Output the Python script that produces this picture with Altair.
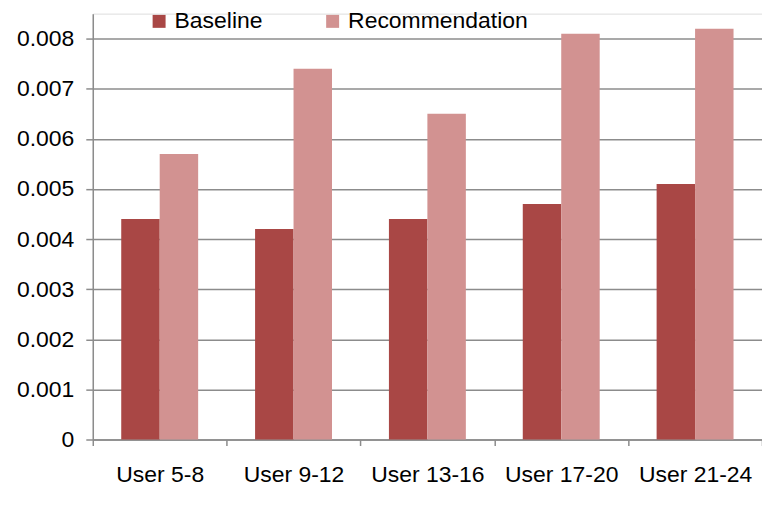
import altair as alt
import pandas as pd

categories = ["User 5-8", "User 9-12", "User 13-16", "User 17-20", "User 21-24"]
baseline = [0.0044, 0.0042, 0.0044, 0.0047, 0.0051]
recommendation = [0.0057, 0.0074, 0.0065, 0.0081, 0.0082]
series = ["Baseline", "Recommendation"]
colors = ["#A94745", "#D29291"]
y_ticks = [0, 0.001, 0.002, 0.003, 0.004, 0.005, 0.006, 0.007, 0.008]

rows = []
for c, b, r in zip(categories, baseline, recommendation):
    rows.append({"cat": c, "series": series[0], "value": b})
    rows.append({"cat": c, "series": series[1], "value": r})
df = pd.DataFrame(rows)

FONT = "Liberation Sans"

chart = alt.Chart(df).mark_bar().encode(
    x=alt.X("cat:N", sort=categories,
            scale=alt.Scale(paddingInner=0, paddingOuter=0),
            axis=alt.Axis(title=None, labelAngle=0, tickBand="extent",
                          labelFontSize=23, labelFont=FONT, labelColor="#000000",
                          labelPadding=18, tickSize=6, tickColor="#8c8c8c",
                          domainColor="#8c8c8c", domainWidth=1.5, tickWidth=1.5,
                          grid=False)),
    xOffset=alt.XOffset("series:N", sort=series,
                        scale=alt.Scale(paddingInner=0, paddingOuter=0.74)),
    y=alt.Y("value:Q", scale=alt.Scale(domain=[0, 0.0085], nice=False),
            axis=alt.Axis(title=None, values=y_ticks,
                          labelExpr="datum.value == 0 ? '0' : format(datum.value, '.3f')",
                          labelFontSize=23, labelFont=FONT, labelColor="#000000",
                          labelPadding=12, tickSize=7, tickColor="#8c8c8c",
                          domainColor="#8c8c8c", domainWidth=1.5, tickWidth=1.5,
                          grid=True, gridColor="#8c8c8c", gridWidth=1.5)),
    color=alt.Color("series:N", sort=series,
                    scale=alt.Scale(domain=series, range=colors),
                    legend=alt.Legend(title=None, orient="none", direction="horizontal",
                                      legendX=55, legendY=-4,
                                      symbolType="square", symbolSize=169,
                                      symbolStrokeWidth=0, labelOffset=4,
                                      columnPadding=58, labelLimit=400,
                                      labelFontSize=23, labelFont=FONT,
                                      labelColor="#000000")),
).properties(
    width=671, height=427,
    autosize=alt.AutoSizeParams(type="none"),
    padding={"left": 85, "top": 5, "right": 0, "bottom": 60},
).configure_view(stroke=None).configure(background="white")

chart.save("out.html", embed_options={"renderer": "svg", "actions": False})
